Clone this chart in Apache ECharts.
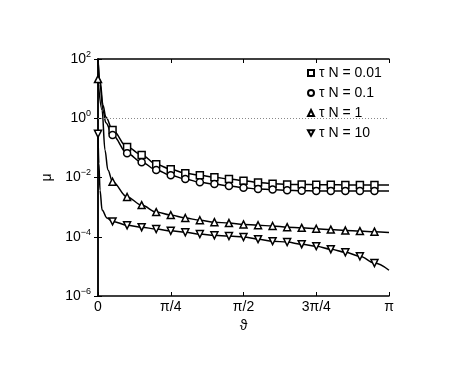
<!DOCTYPE html>
<html><head><meta charset="utf-8">
<script src="https://cdn.jsdelivr.net/npm/echarts@6/dist/echarts.min.js"></script>
<style>html,body{margin:0;padding:0;background:#fff}#c{width:474px;height:366px}</style>
</head><body><div id="c"></div>
<script>
// x values are in units of pi
const legendNames = ['τ N = 0.01', 'τ N = 0.1', 'τ N = 1', 'τ N = 10'];
const xTickLabels = {0: '0', 0.25: 'π/4', 0.5: 'π/2', 0.75: '3π/4', 1: 'π'};

const thetaMarks = [0.05,0.10,0.15,0.20,0.25,0.30,0.35,0.40,0.45,0.50,0.55,0.60,0.65,0.70,0.75,0.80,0.85,0.90,0.95];

const mu001Marks = [0.40,0.107,0.058,0.028,0.019,0.014,0.012,0.0102,0.0089,0.0078,0.0068,0.0062,0.0058,0.0058,0.0057,0.0057,0.0056,0.0056,0.0056];
const mu01Marks  = [0.27,0.066,0.033,0.018,0.012,0.0089,0.0069,0.0060,0.0052,0.0045,0.0041,0.0039,0.0037,0.0036,0.0035,0.0035,0.0035,0.0035,0.0035];
const mu1Marks   = [0.0072,0.0022,0.00117,0.00068,0.00054,0.00043,0.00036,0.00031,0.00029,0.00026,0.000245,0.00023,0.00021,0.00020,0.000186,0.000174,0.000162,0.000155,0.000148];
const mu10Marks  = [0.00033,0.000245,0.00021,0.000182,0.000158,0.000141,0.000123,0.000112,0.000105,0.000098,0.000083,0.000071,0.000066,0.000056,0.000048,0.000038,0.000030,0.000022,0.0000129];

// values at theta = 0 (markers shown for tau N = 1 and 10)
const mu1Zero = 21;
const mu10Zero = 0.30;

// steep part of curves near theta = 0
const thetaHead001 = [0, 0.007, 0.017, 0.027];
const muHead001 = [100, 20, 2.8, 1.1];
const thetaHead01 = [0, 0.007, 0.017, 0.027];
const muHead01 = [100, 14, 1.9, 0.7];
const thetaHead1 = [0, 0.014, 0.024, 0.034];
const muHead1 = [21, 1.9, 0.085, 0.018];
const thetaHead10 = [0, 0.003, 0.007, 0.014, 0.031];
const muHead10 = [0.30, 0.03, 0.0037, 0.0008, 0.00043];

// values at theta = pi
const muEnd = [0.0056, 0.0035, 0.000138, 0.0000074];

function pairs(xs, ys) { return xs.map((x, i) => [x, ys[i]]); }

const lineData = [
  pairs(thetaHead001, muHead001).concat(pairs(thetaMarks, mu001Marks), [[1, muEnd[0]]]),
  pairs(thetaHead01, muHead01).concat(pairs(thetaMarks, mu01Marks), [[1, muEnd[1]]]),
  pairs(thetaHead1, muHead1).concat(pairs(thetaMarks, mu1Marks), [[1, muEnd[2]]]),
  pairs(thetaHead10, muHead10).concat(pairs(thetaMarks, mu10Marks), [[1, muEnd[3]]])
];
const markData = [
  pairs(thetaMarks, mu001Marks),
  pairs(thetaMarks, mu01Marks),
  [[0, mu1Zero]].concat(pairs(thetaMarks, mu1Marks)),
  [[0, mu10Zero]].concat(pairs(thetaMarks, mu10Marks))
];
const symbols = ['rect', 'circle', 'triangle', 'path://M0,0 L10,0 L5,9 Z'];

const FONT = '"Liberation Sans", Arial, sans-serif';
const series = [];
lineData.forEach((d, i) => {
  series.push({
    type: 'line', data: d, showSymbol: false, smooth: 0.35, smoothMonotone: 'x',
    lineStyle: {color: '#000', width: 1.5}, silent: true, z: 2, clip: true,
    markLine: i === 0 ? {
      silent: true, symbol: 'none', label: {show: false},
      lineStyle: {color: '#888', type: [1, 2], width: 1},
      data: [{yAxis: 1}]
    } : undefined
  });
});
markData.forEach((d, i) => {
  series.push({
    name: legendNames[i], type: 'scatter', data: d, symbol: symbols[i], symbolSize: 7,
    itemStyle: {color: '#fff', borderColor: '#000', borderWidth: 1.5, opacity: 1}, z: 3
  });
});

const chart = echarts.init(document.getElementById('c'), null, {renderer: 'canvas'});
chart.setOption({
  backgroundColor: '#fff',
  animation: false,
  grid: {left: 98, right: 85, top: 59, bottom: 70},
  legend: {
    orient: 'vertical', top: 61, left: 302,
    itemWidth: 6, itemHeight: 6, itemGap: 6,
    textStyle: {fontFamily: FONT, fontSize: 14, color: '#000'},
    data: legendNames
  },
  xAxis: [{
    type: 'value', min: 0, max: 1, interval: 0.25,
    name: 'ϑ', nameLocation: 'middle', nameGap: 13,
    nameTextStyle: {fontFamily: FONT, fontSize: 14, color: '#000'},
    axisLine: {lineStyle: {color: '#000', width: 1.5}},
    axisTick: {inside: true, length: 4, lineStyle: {color: '#000'}},
    axisLabel: {fontFamily: FONT, fontSize: 14, color: '#000', margin: 4,
      formatter: v => xTickLabels[v] !== undefined ? xTickLabels[v] : ''},
    splitLine: {show: false}
  }, {
    type: 'value', min: 0, max: 1, interval: 0.25, position: 'top',
    axisLine: {lineStyle: {color: '#000', width: 1.5}},
    axisTick: {inside: true, length: 4, lineStyle: {color: '#000'}},
    axisLabel: {show: false}, splitLine: {show: false}
  }],
  yAxis: [{
    type: 'log', logBase: 10, min: 1e-6, max: 1e2, interval: 2,
    name: 'μ', nameLocation: 'middle', nameGap: 38, nameRotate: 90,
    nameTextStyle: {fontFamily: FONT, fontSize: 14, color: '#000'},
    axisLine: {lineStyle: {color: '#000', width: 1.5}},
    axisTick: {inside: true, length: 4, lineStyle: {color: '#000'}},
    minorTick: {show: false},
    axisLabel: {
      margin: 7, fontFamily: FONT, color: '#000',
      formatter: v => {
        const e = Math.round(Math.log10(v));
        return '{b|10}{e|' + (e < 0 ? '−' + (-e) : e) + '}';
      },
      rich: {
        b: {fontFamily: FONT, fontSize: 14, color: '#000'},
        e: {fontFamily: FONT, fontSize: 9, color: '#000', verticalAlign: 'top', padding: [0, 0, 9, 0]}
      }
    },
    splitLine: {show: false}
  }, {
    type: 'log', logBase: 10, min: 1e-6, max: 1e2, interval: 2, position: 'right',
    axisLine: {lineStyle: {color: '#000', width: 1.5}},
    axisTick: {inside: true, length: 4, lineStyle: {color: '#000'}},
    axisLabel: {show: false}, splitLine: {show: false}
  }],
  series: series
});
</script></body></html>
